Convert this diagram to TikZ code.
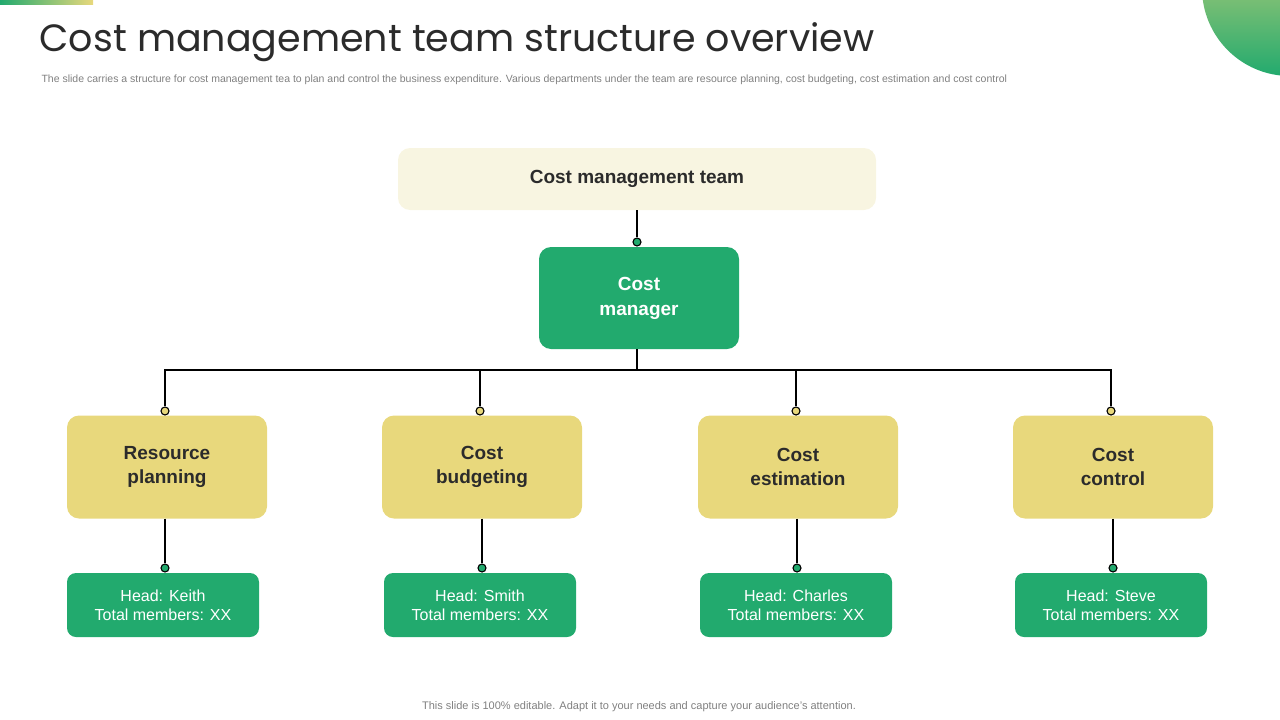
\documentclass[tikz,border=0pt]{standalone}
\usepackage{fontspec}
\setmainfont{Liberation Sans}
\newfontfamily\titlefont{Poppins}
\definecolor{cmgreen}{HTML}{22AA6E}
\definecolor{cmyellow}{HTML}{E8D87C}
\definecolor{cmcream}{HTML}{F8F5E1}
\definecolor{cmtext}{HTML}{2B2B2B}
\tikzset{
  box/.style={rounded corners=12pt, inner sep=0pt, align=center},
  dept/.style={box, fill=cmyellow, minimum width=200pt, minimum height=103pt,
    font=\fontsize{19}{24}\selectfont\bfseries, text=cmtext},
  headbox/.style={box, fill=cmgreen, minimum width=192pt, minimum height=64pt,
    rounded corners=9pt, font=\fontsize{16}{19}\selectfont, text=white},
  link/.style={line width=1.6pt, black},
  ydot/.style={circle, draw=black, line width=1.1pt, fill=cmyellow, inner sep=0pt, minimum size=8pt},
  gdot/.style={circle, draw=black, line width=1.1pt, fill=cmgreen, inner sep=0pt, minimum size=8pt}
}
\begin{document}
\begin{tikzpicture}[x=1pt,y=-1pt]
\useasboundingbox (0,0) rectangle (1280,720);
% corner decorations
\shade[left color=cmgreen, right color=cmyellow] (0,0) rectangle (93,4);
\begin{scope}
\clip (0,0) rectangle (1280,720);
\shade[top color=cmyellow, bottom color=cmgreen] (1290,-12) circle (88);
\end{scope}
% heading
\node[anchor=west, text=cmtext] (title) at (36,42)
  {\titlefont\fontsize{38}{44}\selectfont Cost management team structure overview};
\node[anchor=west, text=gray] (sub) at (38,80) {\fontsize{10.5}{12}\selectfont The slide carries a structure for cost management tea to plan and control the business expenditure. Various departments under the team are resource planning, cost budgeting, cost estimation and cost control};
% boxes
\node[box, fill=cmcream, minimum width=478pt, minimum height=62pt,
  font=\fontsize{19}{24}\selectfont\bfseries, text=cmtext] (team) at (637,179) {Cost management team};
\node[box, fill=cmgreen, minimum width=200pt, minimum height=102pt,
  font=\fontsize{19}{25}\selectfont\bfseries, text=white] (mgr) at (639,298) {Cost\\manager};
\node[dept] (res) at (167,467) {Resource\\planning};
\node[dept] (bud) at (482,467) {Cost\\budgeting};
\node[dept] (est) at (798,467) {Cost\\estimation};
\node[dept] (ctl) at (1113,467) {Cost\\control};
\node[headbox] (hres) at (163,605) {Head: Keith\\Total members: XX};
\node[headbox] (hbud) at (480,605) {Head: Smith\\Total members: XX};
\node[headbox] (hest) at (796,605) {Head: Charles\\Total members: XX};
\node[headbox] (hctl) at (1111,605) {Head: Steve\\Total members: XX};
% connectors
\node[gdot] (dmgr) at (637,242) {};
\draw[link] (team.south -| dmgr) -- (dmgr);
\coordinate (bus) at (637,370);
\draw[link] (mgr.south -| bus) -- (bus);
\foreach \d/\x in {res/165, bud/480, est/796, ctl/1111}{
  \node[ydot] (top\d) at (\x,411) {};
  \draw[link] (bus) -| (top\d);
}
\foreach \d/\x in {res/165, bud/482, est/797, ctl/1113}{
  \node[gdot] (bot\d) at (\x,568) {};
  \draw[link] (\d.south -| bot\d) -- (bot\d);
}
\node[text=gray] (foot) at (639,707) {\fontsize{11}{13}\selectfont This slide is 100\% editable. Adapt it to your needs and capture your audience's attention.};
\end{tikzpicture}
\end{document}
